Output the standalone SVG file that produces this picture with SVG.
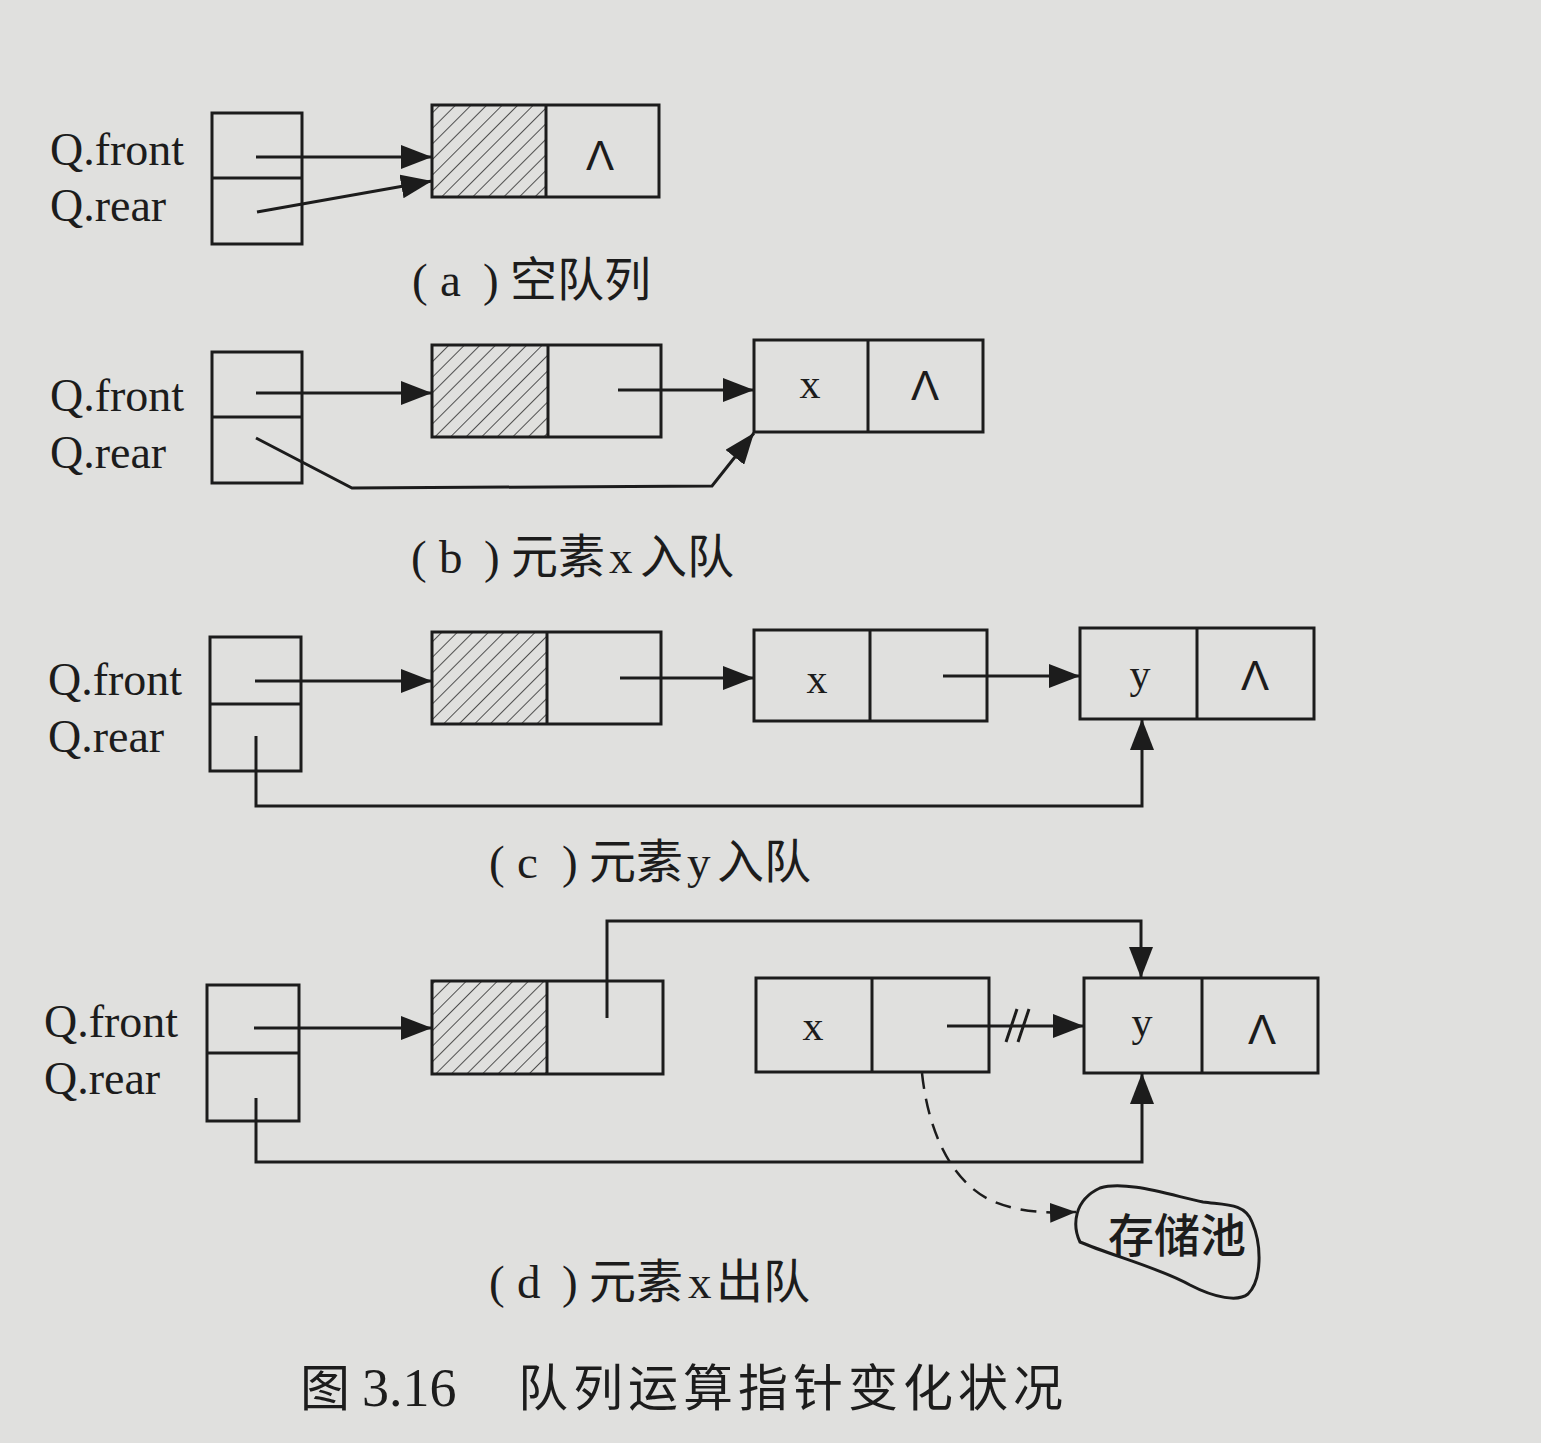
<svg xmlns="http://www.w3.org/2000/svg" width="1541" height="1443" viewBox="0 0 1541 1443">
<style>
.bg{fill:#e0e0de}
.box{fill:none;stroke:#1c1c1c;stroke-width:3}
.conn{fill:none;stroke:#1c1c1c;stroke-width:3}
.dash{fill:none;stroke:#1c1c1c;stroke-width:2.5;stroke-dasharray:16 10}
.hatch{fill:url(#hatch);stroke:none}
.lbl{font-family:"Liberation Serif",serif;font-size:46px;fill:#1c1c1c}
.val{font-family:"Liberation Serif",serif;font-size:42px;fill:#1c1c1c;text-anchor:middle}
.nil{font-family:"Liberation Sans",sans-serif;font-size:42px;fill:#1c1c1c;text-anchor:middle}
.cap{font-family:"Liberation Serif","Noto Sans CJK SC",serif;font-size:47px;fill:#1c1c1c}
.cjk{font-family:"Noto Sans CJK SC",sans-serif}
</style>
<defs>
<pattern id="hatch" width="11" height="11" patternUnits="userSpaceOnUse" patternTransform="rotate(45)">
<line x1="0" y1="0" x2="0" y2="11" stroke="#2a2a2a" stroke-width="1.6"/>
</pattern>
<marker id="arr" markerUnits="userSpaceOnUse" markerWidth="31" markerHeight="24" refX="31" refY="12" orient="auto">
<path d="M0,0 L31,12 L0,24 Z" fill="#1c1c1c"/>
</marker>
<marker id="arrs" markerUnits="userSpaceOnUse" markerWidth="26" markerHeight="20" refX="26" refY="10" orient="auto">
<path d="M0,0 L26,10 L0,20 Z" fill="#1c1c1c"/>
</marker>
</defs>
<rect class="bg" x="0" y="0" width="1541" height="1443"/>

<!-- (a) -->
<g id="a-labels">
<text class="lbl" x="50" y="165">Q.front</text>
<text class="lbl" x="50" y="221">Q.rear</text>
</g>
<g id="a-ptr">
<rect class="box" x="212" y="113" width="90" height="131"/>
<line class="box" x1="212" y1="178" x2="302" y2="178"/>
</g>
<g id="a-head">
<rect class="hatch" x="432" y="105" width="114" height="92"/>
<rect class="box" x="432" y="105" width="227" height="92"/>
<line class="box" x1="546" y1="105" x2="546" y2="197"/>
<text class="nil" x="600" y="170">Λ</text>
</g>
<g id="a-caption">
<text class="cap" y="296"><tspan x="412">(</tspan><tspan x="440">a</tspan><tspan x="483">)</tspan><tspan x="510" class="cjk">空队列</tspan></text>
</g>

<!-- (b) -->
<g id="b-labels">
<text class="lbl" x="50" y="411">Q.front</text>
<text class="lbl" x="50" y="468">Q.rear</text>
</g>
<g id="b-ptr">
<rect class="box" x="212" y="352" width="90" height="131"/>
<line class="box" x1="212" y1="417" x2="302" y2="417"/>
</g>
<g id="b-head">
<rect class="hatch" x="432" y="345" width="116" height="92"/>
<rect class="box" x="432" y="345" width="229" height="92"/>
<line class="box" x1="548" y1="345" x2="548" y2="437"/>
</g>
<g id="b-x">
<rect class="box" x="754" y="340" width="229" height="92"/>
<line class="box" x1="868" y1="340" x2="868" y2="432"/>
<text class="val" x="810" y="398">x</text>
<text class="nil" x="925" y="400">Λ</text>
</g>
<g id="b-caption">
<text class="cap" y="573"><tspan x="411">(</tspan><tspan x="439">b</tspan><tspan x="484">)</tspan><tspan x="511" class="cjk">元素</tspan><tspan x="609">x</tspan><tspan x="640" class="cjk">入队</tspan></text>
</g>

<!-- (c) -->
<g id="c-labels">
<text class="lbl" x="48" y="695">Q.front</text>
<text class="lbl" x="48" y="752">Q.rear</text>
</g>
<g id="c-ptr">
<rect class="box" x="210" y="637" width="91" height="134"/>
<line class="box" x1="210" y1="704" x2="301" y2="704"/>
</g>
<g id="c-head">
<rect class="hatch" x="432" y="632" width="115" height="92"/>
<rect class="box" x="432" y="632" width="229" height="92"/>
<line class="box" x1="547" y1="632" x2="547" y2="724"/>
</g>
<g id="c-x">
<rect class="box" x="754" y="630" width="233" height="91"/>
<line class="box" x1="870" y1="630" x2="870" y2="721"/>
<text class="val" x="817" y="693">x</text>
</g>
<g id="c-y">
<rect class="box" x="1080" y="628" width="234" height="91"/>
<line class="box" x1="1197" y1="628" x2="1197" y2="719"/>
<text class="val" x="1140" y="688">y</text>
<text class="nil" x="1255" y="690">Λ</text>
</g>
<g id="c-caption">
<text class="cap" y="878"><tspan x="489">(</tspan><tspan x="517">c</tspan><tspan x="562">)</tspan><tspan x="589" class="cjk">元素</tspan><tspan x="687">y</tspan><tspan x="717" class="cjk">入队</tspan></text>
</g>

<!-- (d) -->
<g id="d-labels">
<text class="lbl" x="44" y="1037">Q.front</text>
<text class="lbl" x="44" y="1094">Q.rear</text>
</g>
<g id="d-ptr">
<rect class="box" x="207" y="985" width="92" height="136"/>
<line class="box" x1="207" y1="1053" x2="299" y2="1053"/>
</g>
<g id="d-head">
<rect class="hatch" x="432" y="981" width="115" height="93"/>
<rect class="box" x="432" y="981" width="231" height="93"/>
<line class="box" x1="547" y1="981" x2="547" y2="1074"/>
</g>
<g id="d-x">
<rect class="box" x="756" y="978" width="233" height="94"/>
<line class="box" x1="872" y1="978" x2="872" y2="1072"/>
<text class="val" x="813" y="1040">x</text>
</g>
<g id="d-y">
<rect class="box" x="1084" y="978" width="234" height="95"/>
<line class="box" x1="1202" y1="978" x2="1202" y2="1073"/>
<text class="val" x="1142" y="1036">y</text>
<text class="nil" x="1262" y="1044">Λ</text>
</g>
<g id="d-pool">
<path class="box" d="M1080,1242 C1072,1225 1074,1200 1100,1188 C1125,1180 1170,1195 1203,1202 C1225,1205 1245,1203 1252,1222 C1262,1245 1262,1280 1248,1294 C1238,1302 1215,1298 1190,1285 C1160,1268 1110,1255 1080,1242 Z"/>
<text class="cjk" x="1177" y="1252" font-size="46" font-weight="500" fill="#1c1c1c" text-anchor="middle">存储池</text>
</g>
<g id="d-caption">
<text class="cap" y="1298"><tspan x="489">(</tspan><tspan x="517">d</tspan><tspan x="562">)</tspan><tspan x="589" class="cjk">元素</tspan><tspan x="688">x</tspan><tspan x="716" class="cjk">出队</tspan></text>
</g>

<!-- title -->
<g id="title">
<text y="1406" font-size="50" fill="#1c1c1c"><tspan x="300" class="cjk">图</tspan><tspan x="362" font-family="Liberation Serif, serif" font-size="54">3.16</tspan><tspan x="518" class="cjk" letter-spacing="5">队列运算指针变化状况</tspan></text>
</g>

<!-- connectors -->
<g id="connectors">
<path class="conn" d="M256,157 L432,157" marker-end="url(#arr)"/>
<path class="conn" d="M257,212 L432,181" marker-end="url(#arr)"/>

<path class="conn" d="M256,393 L432,393" marker-end="url(#arr)"/>
<path class="conn" d="M618,390 L754,390" marker-end="url(#arr)"/>
<path class="conn" d="M256,438 L352,488 L712,486 L754,433" marker-end="url(#arr)"/>

<path class="conn" d="M255,681 L432,681" marker-end="url(#arr)"/>
<path class="conn" d="M620,678 L754,678" marker-end="url(#arr)"/>
<path class="conn" d="M943,676 L1080,676" marker-end="url(#arr)"/>
<path class="conn" d="M256,736 L256,806 L1142,806 L1142,719" marker-end="url(#arr)"/>

<path class="conn" d="M254,1028 L432,1028" marker-end="url(#arr)"/>
<path class="conn" d="M607,1018 L607,921 L1141,921 L1141,978" marker-end="url(#arr)"/>
<path class="conn" d="M947,1026 L1084,1026" marker-end="url(#arr)"/>
<line class="conn" x1="1006" y1="1042" x2="1017" y2="1009"/>
<line class="conn" x1="1018" y1="1042" x2="1029" y2="1009"/>
<path class="conn" d="M256,1098 L256,1162 L1142,1162 L1142,1073" marker-end="url(#arr)"/>
<path class="dash" d="M922,1073 C928,1130 950,1180 990,1200 C1020,1213 1045,1213 1076,1212" marker-end="url(#arrs)"/>
</g>
</svg>
